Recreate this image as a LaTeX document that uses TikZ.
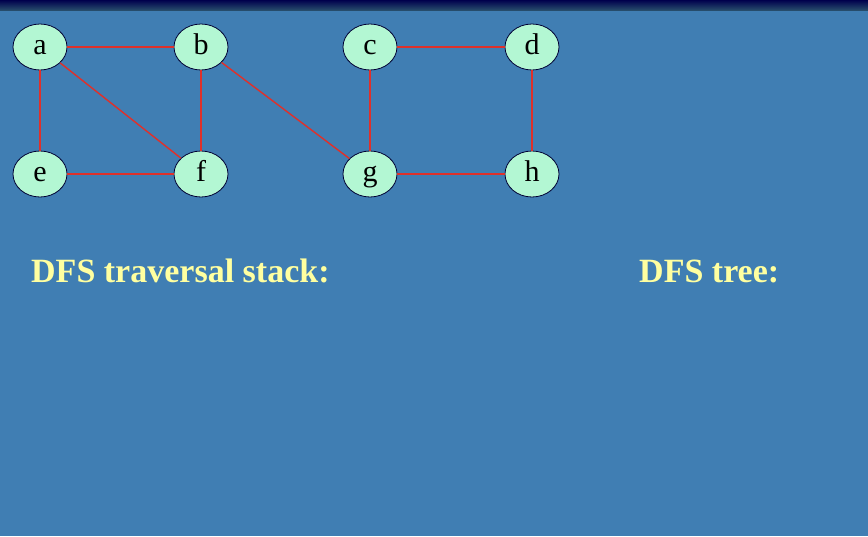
\documentclass[tikz,border=0pt]{standalone}
\usepackage{fontspec}
\setmainfont{Liberation Serif}
\usetikzlibrary{shapes.geometric}
\definecolor{bg}{HTML}{407EB3}
\definecolor{nodefill}{HTML}{B3F7D3}
\definecolor{edgecol}{HTML}{E0302A}
\definecolor{lbl}{HTML}{FFFFA0}
\tikzset{vert/.style={ellipse,draw=black!80!blue,line width=0.8pt,fill=nodefill,minimum width=54pt,minimum height=46pt,inner sep=0pt,font=\fontsize{30}{30}\selectfont,text height=14pt,text depth=0pt},
edge/.style={draw=edgecol,line width=1.4pt},
lab/.style={text=lbl,font=\bfseries\fontsize{34}{34}\selectfont,anchor=base west,inner sep=0pt}}
\begin{document}
\begin{tikzpicture}[x=1pt,y=-1pt]
\useasboundingbox (0,0) rectangle (868,536);
\fill[bg] (0,0) rectangle (868,536);
\shade[top color=black!70!blue,bottom color=bg!60!black] (0,0) rectangle (868,10);
\node[vert] (a) at (40,47) {a};
\node[vert] (b) at (201,47) {b};
\node[vert] (c) at (370,47) {c};
\node[vert] (d) at (532,47) {d};
\node[vert] (e) at (40,174) {e};
\node[vert] (f) at (201,174) {f};
\node[vert] (g) at (370,174) {g};
\node[vert] (h) at (532,174) {h};
\draw[edge] (a.east) -- (b.west);
\draw[edge] (a) -- (e);
\draw[edge] (a) -- (f);
\draw[edge] (b) -- (f);
\draw[edge] (e) -- (f);
\draw[edge] (b) -- (g);
\draw[edge] (c) -- (d);
\draw[edge] (c) -- (g);
\draw[edge] (d) -- (h);
\draw[edge] (g) -- (h);
\node[lab] (t1) at (31,282) {DFS traversal stack:};
\node[lab] (t2) at (639,282) {DFS tree:};
\end{tikzpicture}
\end{document}
